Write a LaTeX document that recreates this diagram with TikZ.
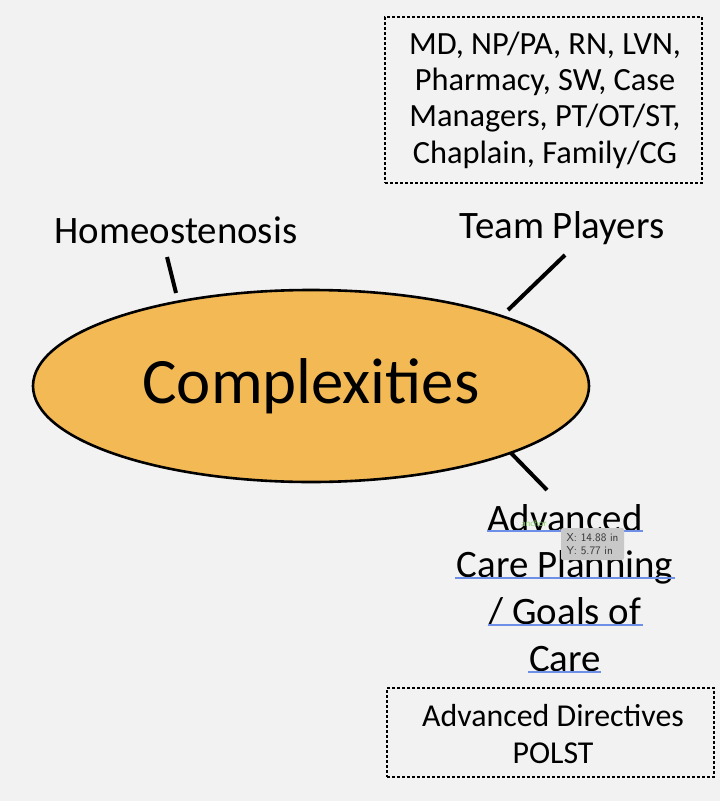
\documentclass[tikz,border=0pt]{standalone}
\usepackage{fontspec}
\setmainfont{Carlito}
\usetikzlibrary{shapes.geometric}
\definecolor{bgc}{HTML}{F2F2F2}
\definecolor{gold}{HTML}{F2B955}
\definecolor{ulblue}{HTML}{6E8FE8}
\definecolor{tipgray}{HTML}{C8C8C8}
\definecolor{anchorgreen}{HTML}{8CD46E}
\tikzset{
  bubble/.style={ellipse, draw=black, line width=2.6bp, fill=gold, minimum width=556bp, minimum height=192bp, inner sep=0pt},
  lbl/.style={font=\fontsize{39}{47}\selectfont, align=center, inner sep=0pt},
  dbox/.style={draw=black, line width=1.4bp, dash pattern=on 3bp off 2bp, align=center, inner sep=0pt},
  spoke/.style={line width=4bp},
  uline/.style={draw=ulblue, line width=1.1bp}
}
\begin{document}
\begin{tikzpicture}[x=1bp,y=-1bp]
\fill[bgc] (0,0) rectangle (720,801);
\useasboundingbox (0,0) rectangle (720,801);

\node[bubble] (cx) at (311,386) {\fontsize{65}{70}\selectfont Complexities};

\node[lbl] (homeo) at (176,230) {Homeostenosis};
\node[lbl] (team) at (562,228) {Team Players};
\node[lbl] (acp) at (565,588) {Advanced\\Care Planning\\/ Goals of\\Care};

\node[dbox, minimum width=317bp, minimum height=166bp] (tbox) at (543.5,100) {};
\node[font=\fontsize{32.5}{36.5}\selectfont, align=center] (ttext) at (545,100) {MD, NP/PA, RN, LVN,\\Pharmacy, SW, Case\\Managers, PT/OT/ST,\\Chaplain, Family/CG};

\node[dbox, minimum width=327bp, minimum height=89bp] (bbox) at (550.5,732.5) {};
\node[font=\fontsize{32}{37}\selectfont, align=center] (btext) at (553,734) {Advanced Directives\\POLST};

\coordinate (h1) at (167,257);
\coordinate (h2) at (176,293);
\coordinate (t1) at (565,255);
\coordinate (t2) at (508,310);
\coordinate (a1) at (511,453);
\coordinate (a2) at (547,490);
\draw[spoke] (h1) -- (h2);
\draw[spoke] (t1) -- (t2);
\draw[spoke] (a1) -- (a2);

% screenshot overlay artefacts
\coordinate (u1a) at (487,531); \coordinate (u1b) at (643,531);
\coordinate (u2a) at (455,578); \coordinate (u2b) at (675,578);
\coordinate (u3a) at (488,625); \coordinate (u3b) at (643,625);
\coordinate (u4a) at (528,672); \coordinate (u4b) at (601,672);
\draw[uline] (u1a) -- (u1b);
\draw[uline] (u2a) -- (u2b);
\draw[uline] (u3a) -- (u3b);
\draw[uline] (u4a) -- (u4b);
\node[font=\fontsize{9}{9}\selectfont, text=anchorgreen, inner sep=0pt] (anc) at (534,523) {anchor};
\node[fill=tipgray, rounded corners=2bp, minimum width=63bp, minimum height=32bp, inner sep=0pt,
      font=\fontsize{11.5}{13}\selectfont\sffamily, align=left, text=black!80] (tip) at (592.5,544) {X: 14.88 in\\Y: 5.77 in};
\end{tikzpicture}
\end{document}
